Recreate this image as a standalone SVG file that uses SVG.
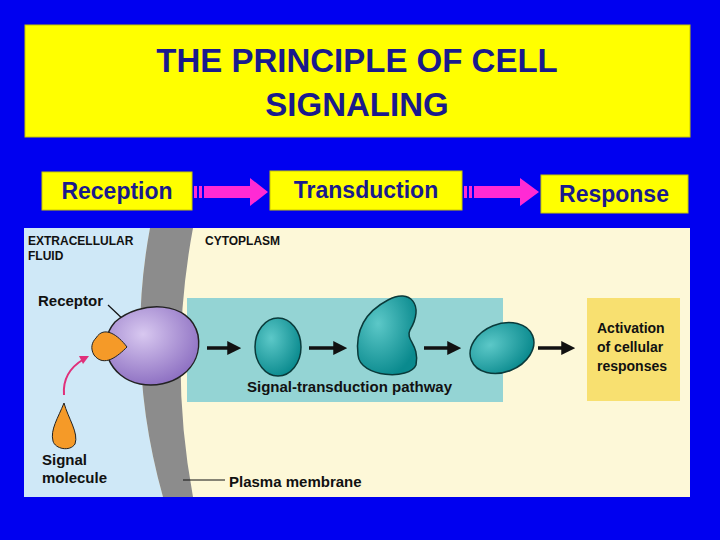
<svg xmlns="http://www.w3.org/2000/svg" width="720" height="540" viewBox="0 0 720 540">
<defs>
<style>
.h{font-family:"Liberation Sans",Arial,sans-serif;font-weight:bold;fill:#1a1a8c}
.l{font-family:"Liberation Sans",Arial,sans-serif;font-weight:bold;fill:#111}
.yb{fill:#ffff00;stroke:#c8c800;stroke-width:1}
.ar{stroke:#111;stroke-width:3.5;fill:none}
.pk{fill:#ff2ad4}
</style>
<marker id="ah" markerWidth="4" markerHeight="4" refX="2.5" refY="2" orient="auto" markerUnits="strokeWidth"><path d="M0,0 L4,2 L0,4 Z" fill="#111"/></marker>
<radialGradient id="tg" cx="0.35" cy="0.35" r="0.7"><stop offset="0" stop-color="#5cc8c8"/><stop offset="1" stop-color="#0a8a8e"/></radialGradient>
<radialGradient id="pg" cx="0.4" cy="0.35" r="0.7"><stop offset="0" stop-color="#d8c8f0"/><stop offset="1" stop-color="#8a6cc0"/></radialGradient>
</defs>
<rect width="720" height="540" fill="#0000f0"/>
<g id="title"><rect x="25" y="25" width="665" height="112" class="yb"/>
<text x="357" y="72" text-anchor="middle" class="h" font-size="33">THE PRINCIPLE OF CELL</text>
<text x="357" y="116" text-anchor="middle" class="h" font-size="33">SIGNALING</text></g>
<g id="reception"><rect x="42" y="172" width="150" height="38" class="yb"/><text x="117" y="199" text-anchor="middle" class="h" font-size="23">Reception</text></g>
<g id="transduction"><rect x="270" y="171" width="192" height="39" class="yb"/><text x="366" y="198" text-anchor="middle" class="h" font-size="23">Transduction</text></g>
<g id="response"><rect x="541" y="175" width="147" height="38" class="yb"/><text x="614" y="202" text-anchor="middle" class="h" font-size="23">Response</text></g>
<g id="connectors">
<rect x="194" y="186" width="3" height="12" class="pk"/><rect x="199" y="186" width="3" height="12" class="pk"/><path class="pk" d="M204,186 H250 V178 L268,192 L250,206 V198 H204 Z"/>
<rect x="464" y="186" width="3" height="12" class="pk"/><rect x="469" y="186" width="3" height="12" class="pk"/><path class="pk" d="M474,186 H520 V178 L539,192 L520,206 V198 H474 Z"/>
</g>
<g id="panel">
<rect x="24" y="228" width="666" height="269" fill="#fdf8d8"/>
<path d="M24,228 H150 Q125,362 163,497 H24 Z" fill="#cfe8f7"/>
<path d="M150,228 H193 Q168,362 193,497 H163 Q125,362 150,228 Z" fill="#8c8c8c"/>
<text x="28" y="245" class="l" font-size="12">EXTRACELLULAR</text>
<text x="28" y="260" class="l" font-size="12">FLUID</text>
<text x="205" y="245" class="l" font-size="12">CYTOPLASM</text>
<rect x="187" y="298" width="316" height="104" fill="#94d4d4"/>
<rect x="587" y="298" width="93" height="103" fill="#f8e070"/>
<text x="597" y="333" class="l" font-size="14">Activation</text>
<text x="597" y="352" class="l" font-size="14">of cellular</text>
<text x="597" y="371" class="l" font-size="14">responses</text>
<text x="247" y="392" class="l" font-size="15">Signal-transduction pathway</text>
<text x="38" y="306" class="l" font-size="15">Receptor</text>
<path d="M108,305 L126,322" stroke="#111" stroke-width="1.2"/>
<path d="M115,322 C140,300 190,300 198,335 C204,370 170,390 140,384 C110,378 95,345 115,322 Z" fill="url(#pg)" stroke="#222" stroke-width="1.5"/>
<path d="M96,338 C104,325 118,335 127,347 C118,356 104,368 94,355 C90,348 92,342 96,338 Z" fill="#f59a28" stroke="#222" stroke-width="1"/>
<path d="M64,395 Q62,372 84,359" stroke="#e0307a" stroke-width="2" fill="none"/>
<path d="M79,356 L89,356 L83,364 Z" fill="#e0307a"/>
<path d="M64,403 C58,418 50,430 53,441 C55,449 70,452 75,444 C79,433 68,418 64,403 Z" fill="#f59a28" stroke="#222" stroke-width="1"/>
<text x="42" y="465" class="l" font-size="15">Signal</text>
<text x="42" y="483" class="l" font-size="15">molecule</text>
<line x1="183" y1="480" x2="225" y2="480" stroke="#111" stroke-width="1.2"/>
<text x="229" y="487" class="l" font-size="15">Plasma membrane</text>
<line x1="207" y1="348" x2="236" y2="348" class="ar" marker-end="url(#ah)"/>
<line x1="309" y1="348" x2="342" y2="348" class="ar" marker-end="url(#ah)"/>
<line x1="424" y1="348" x2="456" y2="348" class="ar" marker-end="url(#ah)"/>
<line x1="538" y1="348" x2="570" y2="348" class="ar" marker-end="url(#ah)"/>
<ellipse cx="278" cy="347" rx="23" ry="29" fill="url(#tg)" stroke="#0a3a3a" stroke-width="1.5"/>
<path d="M388,300 C410,288 425,305 410,330 C405,340 420,345 416,365 C410,380 360,378 358,355 C355,330 365,312 388,300 Z" fill="url(#tg)" stroke="#0a3a3a" stroke-width="1.5"/>
<ellipse cx="502" cy="348" rx="33" ry="24" transform="rotate(-22 502 348)" fill="url(#tg)" stroke="#0a3a3a" stroke-width="1.5"/>
</g>
</svg>
